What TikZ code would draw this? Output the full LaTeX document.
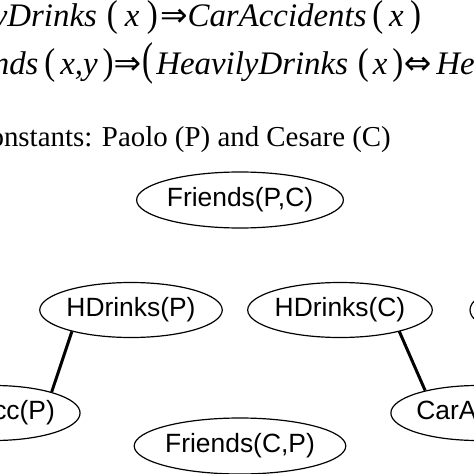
\documentclass[tikz,border=0pt]{standalone}
\usepackage{fontspec}
\setmainfont{Liberation Serif}
\newfontfamily\labelfont{Liberation Sans}
\newfontfamily\arrowfont{DejaVu Sans}
\usetikzlibrary{shapes.geometric}

\newcommand{\fg}[1]{\hspace{#1em}}
\newcommand{\fparen}[1]{\upshape\scalebox{1}[1.14]{#1}\itshape}
\newcommand{\bigparen}[1]{\upshape\scalebox{1}[1.4]{#1}\itshape}

\begin{document}
\begin{tikzpicture}[x=1bp,y=-1bp,
    atom/.style={ellipse, draw=borderColour, line width=1.2pt, inner sep=0pt,
        minimum width=156bp, minimum height=55bp,
        font=\labelfont\fontsize{26.5}{29}\selectfont},
    link/.style={draw=borderColour, line width=3pt},
    formula/.style={inner sep=0pt, anchor=base west, font=\fontsize{33}{37}\selectfont\itshape}]
    \definecolor{borderColour}{HTML}{000000}

    % Frame of the picture
    \useasboundingbox (0,0) rectangle (474,474);

    % Formulas
    \node[formula] (ruleA) at (-95,27) {HeavilyDrinks\fg{0.3}\fparen{(}\fg{0.22}x\fg{0.22}\fparen{)}\fg{0.07}{\arrowfont ⇒}CarAccidents\fg{0.18}\fparen{(}\fg{0.17}x\fg{0.2}\fparen{)}};
    \node[formula] (ruleB) at (-64,75) {Friends\fg{0.18}\fparen{(}\fg{0.15}x,y\fg{0.15}\fparen{)}{\arrowfont ⇒}\fg{0.05}\bigparen{(}\fg{0.08}HeavilyDrinks\fg{0.3}\fparen{(}\fg{0.12}x\fg{0.15}\fparen{)}\fg{0.02}{\arrowfont ⇔}\fg{0.15}HeavilyDrinks\fg{0.3}\fparen{(}\fg{0.12}x\fg{0.15}\fparen{)}\bigparen{)}};

    % Constants
    \node[inner sep=0pt, anchor=base east, font=\fontsize{29}{33}\selectfont] (consts) at (391,147) {Constants: Paolo (P) and Cesare (C)};

    % Ground atoms
    \node[atom, minimum width=190bp, minimum height=56bp] (fpc) at (240,200) {Friends(P,C)};
    \node[atom] (hdp) at (131,310) {HDrinks(P)};
    \node[atom] (hdc) at (340,310) {HDrinks(C)};
    \node[atom] (hdx) at (548,310) {};
    \node[atom] (cap) at (-6,413) {CarAcc(P)};
    \node[atom, minimum width=140bp] (cac) at (478,413) {CarAcc(C)};
    \node[atom, minimum width=200bp, minimum height=56bp] (fcp) at (240,446) {Friends(C,P)};

    % Links
    \draw[link] (hdp.200) -- (cap.20);
    \draw[link] (hdc.340) -- (cac.157);

\end{tikzpicture}
\end{document}
